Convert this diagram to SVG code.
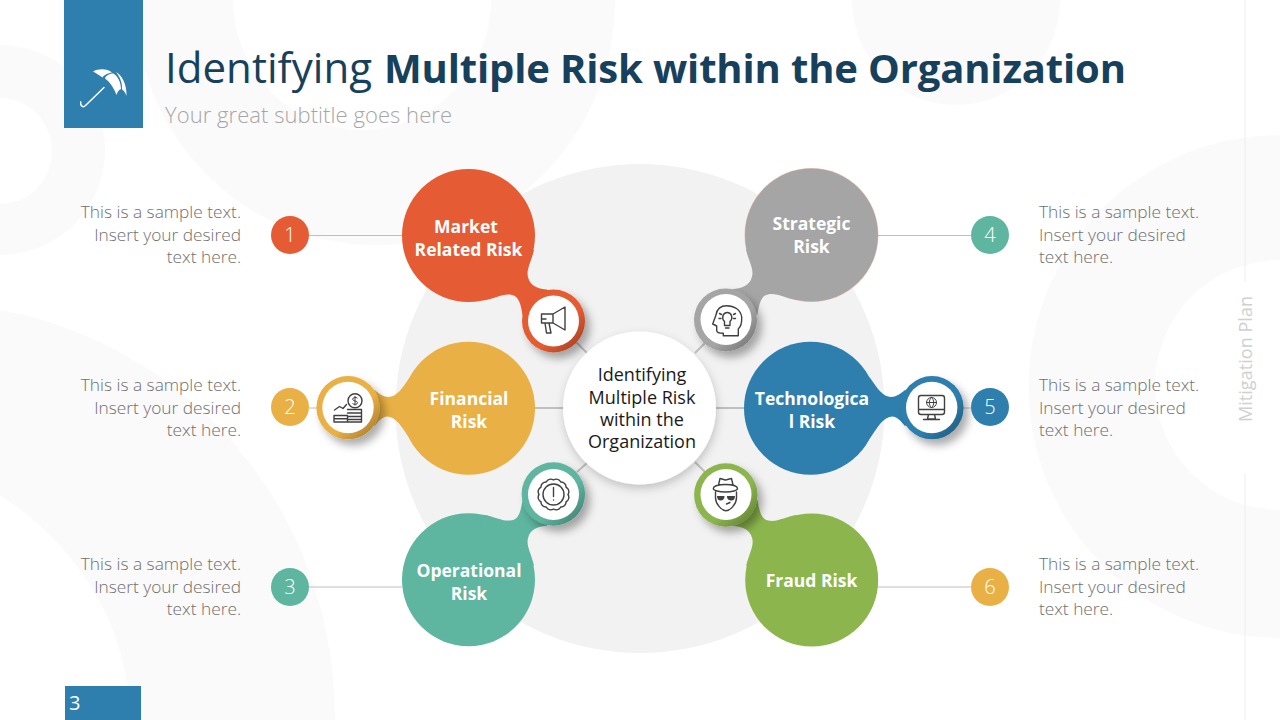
<svg xmlns="http://www.w3.org/2000/svg" xmlns:xlink="http://www.w3.org/1999/xlink" width="1280" height="720" viewBox="0 0 1280 720">
<style>
.bg{fill:#fafafa;fill-rule:evenodd}
.ln{stroke:#bfbfbf;stroke-width:1.2;fill:none}
.ln2{stroke:#bfbfbf;stroke-width:2;fill:none}
.ic{fill:none;stroke:#404040;stroke-width:1.4;stroke-linejoin:round;stroke-linecap:round}
.wh{fill:#fff}
.shade{fill:url(#shade)}
.t{font-family:"Open Sans","Liberation Sans",sans-serif}
.bl{font-family:"Open Sans","Liberation Sans",sans-serif;font-weight:700;font-size:17.5px;fill:#fff;text-anchor:middle}
.sm{font-family:"Open Sans","Liberation Sans",sans-serif;font-weight:300;font-size:17.300px;fill:#6f6f6f}
.nm{font-family:"Open Sans","Liberation Sans",sans-serif;font-weight:300;font-size:20px;fill:#fff;text-anchor:middle}
.ct{font-family:"Open Sans","Liberation Sans",sans-serif;font-size:18px;fill:#1a1a1a;text-anchor:middle}
</style>
<defs>
<linearGradient id="shade" x1="0.2" y1="0.2" x2="0.85" y2="0.85"><stop offset="0.62" stop-color="#000" stop-opacity="0"/><stop offset="1" stop-color="#000" stop-opacity="0.22"/></linearGradient>
<filter id="sh" x="-40%" y="-40%" width="200%" height="200%"><feDropShadow dx="5" dy="6" stdDeviation="4" flood-color="#000" flood-opacity="0.33"/></filter>
<filter id="shc" x="-30%" y="-30%" width="160%" height="160%"><feDropShadow dx="1" dy="4" stdDeviation="5" flood-color="#000" flood-opacity="0.2"/></filter>
<path id="nd" d="M65.500 14.500C62.500 26.500 57.500 34.500 59.500 41.500C61.500 51.500 71.500 53.500 78.500 54L85 85.500L54 79.500C52.500 69.500 50.500 60.500 43.500 59.500C34.500 57.500 26.500 63.500 14.500 65L0 0Z"/>
<path id="nh" d="M-58.500 -31C-66 -20 -72 -11 -80 -11C-85 -11 -89 -14 -94 -18L-120.500 0L-94 18C-90 13 -86 8.500 -81 8.500C-72 9 -66 20 -58.500 31Z"/>
</defs>

<g id="background">
<path class="bg" d="M135 0A240 245 0 0 0 615 0ZM233 0A129 130 0 0 0 491 0Z"/>
<path class="bg" d="M852 0A104 105 0 0 0 1060 0Z"/>
<path class="bg" d="M1280 135A251 251 0 0 0 1280 638ZM1280 260A125 125 0 0 0 1280 510Z"/>
<path class="bg" d="M0 45A105 105 0 0 1 0 255ZM0 98A52 53 0 0 1 0 204Z"/>
<path class="bg" d="M0 310C190 345 335 510 335 720L130 720C130 620 70 540 0 495Z"/>
<path d="M1245 0V282M1245 474V720" stroke="#eeeeee" stroke-width="1" fill="none"/>
<circle cx="640" cy="408.500" r="244.500" fill="#f2f2f2"/>
</g>

<g id="header">
<rect x="64" y="0" width="79" height="128" fill="#2f7fae"/>
<path class="wh" d="M93 71.500C98 68.500 107 68 112 72.500C108 73 104 75 102.500 77.500C99 75 96 73 93 71.500Z"/>
<path class="wh" d="M105 78.500C106 75 110 73.500 113.500 73.500C118 76 121 83 121 89C119 89.500 117.500 92 116.500 95C114 88 110 82 105 78.500Z"/>
<path class="wh" d="M116 72C122 75 127 85 126.500 96C125 92 123.500 90 122 89.500C122.500 83 120 77 116 72Z"/>
<path d="M104 87.500L85.500 105.500C83 108 80 106 80.700 102" fill="none" stroke="#fff" stroke-width="1.500" stroke-linecap="round"/>
<text class="t" x="165" y="83" font-size="42" fill="#17405c" textLength="207" lengthAdjust="spacing">Identifying</text>
<text class="t" x="384" y="83" font-size="40" font-weight="700" fill="#17405c" textLength="742" lengthAdjust="spacing">Multiple Risk within the Organization</text>
<text class="t" x="165" y="123" font-size="22" font-weight="300" fill="#a6a6a6" textLength="287" lengthAdjust="spacing">Your great subtitle goes here</text>
</g>

<g id="connectors">
<path class="ln" d="M309 235.500H402M309 408H317M309 587H402M878 235.500H971M963 408H971M878 587H971"/>
<path class="ln2" d="M535 408H564M716 408H745M575 341L587 353M707 341L695 353M577 472L587 463M695 462L705 472"/>
</g>

<g id="center-disc">
<circle cx="639.500" cy="408" r="76.500" class="wh" filter="url(#shc)"/>
<text class="ct" x="642" y="380.500">Identifying</text>
<text class="ct" x="642" y="403.500">Multiple Risk</text>
<text class="ct" x="642" y="425.500">within the</text>
<text class="ct" x="642" y="447.500">Organization</text>
</g>

<g id="node-market">
<g fill="#e55b33"><circle cx="468.500" cy="235.500" r="66.500"/><use xlink:href="#nd" transform="translate(468.500,235.500)"/></g>
<circle cx="553.500" cy="321" r="31.500" fill="#e55b33" filter="url(#sh)"/><circle cx="553.500" cy="321" r="31.500" class="shade"/>
<circle cx="553.500" cy="321" r="25.500" class="wh"/>
<path class="ic" d="M541.500 314H553L565 307V330L553 323H541.500ZM553 314V323M545 323L546.500 333H551L549 323M541.500 319H546"/>
<text class="bl" x="466" y="233">Market</text><text class="bl" x="468.500" y="256">Related Risk</text>
</g>

<g id="node-financial">
<g fill="#e9b045"><circle cx="468.500" cy="408.300" r="66.500"/><use xlink:href="#nh" transform="translate(468.500,408)"/></g>
<circle cx="348" cy="407.700" r="31.600" fill="#e9b045" filter="url(#sh)"/><circle cx="348" cy="407.700" r="31.600" class="shade"/>
<circle cx="348" cy="407.500" r="25.700" class="wh"/>
<path class="ic" d="M334 415.500H347.500V422H334ZM334 418.700H347.500M347.500 409.500H361.500V422H347.500M347.500 413H361.500M347.500 416.500H361.500M347.500 419.500H361.500M334.500 410L339.500 406.500L343 408.500L346.500 404.500"/>
<circle class="ic" cx="355" cy="400.700" r="7"/>
<path d="M357.500 398.200C356 396.800 352.700 397.200 352.700 399.200C352.700 401.500 357.500 400.500 357.500 402.800C357.500 404.700 354 405 352.500 403.500M355 396V405.500" fill="none" stroke="#404040" stroke-width="1"/>
<text class="bl" x="469" y="405">Financial</text><text class="bl" x="469" y="428">Risk</text>
</g>

<g id="node-operational">
<g fill="#5eb5a0"><circle cx="468.500" cy="579.700" r="66.500"/><use xlink:href="#nd" transform="translate(468.500,579.700) scale(1,-1)"/></g>
<circle cx="553.300" cy="494" r="31.700" fill="#5eb5a0" filter="url(#sh)"/><circle cx="553.300" cy="494" r="31.700" class="shade"/>
<circle cx="553.500" cy="494.500" r="25.500" class="wh"/>
<g transform="translate(553.500,494.500)"><path class="ic" d="M14.500 0A5 5 0 0 1 12.560 7.250A5 5 0 0 1 7.250 12.560A5 5 0 0 1 0 14.500A5 5 0 0 1 -7.250 12.560A5 5 0 0 1 -12.560 7.250A5 5 0 0 1 -14.500 0A5 5 0 0 1 -12.560 -7.250A5 5 0 0 1 -7.250 -12.560A5 5 0 0 1 0 -14.500A5 5 0 0 1 7.250 -12.560A5 5 0 0 1 12.560 -7.250A5 5 0 0 1 14.500 0Z"/><circle class="ic" r="10.500"/><path class="ic" d="M0 -7V2M0 5.500V5.600"/></g>
<text class="bl" x="469" y="577">Operational</text><text class="bl" x="469" y="600">Risk</text>
</g>

<g id="node-strategic">
<circle cx="811.500" cy="235" r="67" fill="#e55b33" opacity="0.3"/>
<g fill="#a5a5a5"><circle cx="811.500" cy="235" r="66.500"/><use xlink:href="#nd" transform="translate(811.500,235) scale(-1,1)"/></g>
<circle cx="725.500" cy="320" r="31.500" fill="#a5a5a5" filter="url(#sh)"/><circle cx="725.500" cy="320" r="31.500" class="shade"/>
<circle cx="726" cy="319.500" r="25.500" class="wh"/>
<path class="ic" d="M738.300 335.700V329C741.500 326 741.900 321 741.700 317C740.500 309.500 734 305.700 726.700 305.700C720 305.700 716.700 310 716 315L712.700 324L716.700 326V330.500C716.700 332.500 719 333.300 723.300 333.300V335.700ZM724.500 321.500C721 318 723 312.500 727.300 312.500C731.500 312.500 733.500 318 730 321.500V325.500H724.500ZM725.500 328H729M719.500 313.500L721.500 314.500M735.500 313.500L733.500 314.500M719 318.500H721M735.500 318.500H733.500"/>
<text class="bl" x="811.500" y="230">Strategic</text><text class="bl" x="811.500" y="253">Risk</text>
</g>

<g id="node-technological">
<g fill="#2f7fae"><circle cx="810.500" cy="408.300" r="66.500"/><use xlink:href="#nh" transform="translate(811,408) scale(-1,1)"/></g>
<circle cx="932" cy="407.700" r="31.600" fill="#2f7fae" filter="url(#sh)"/><circle cx="932" cy="407.700" r="31.600" class="shade"/>
<circle cx="931.700" cy="407.500" r="25.700" class="wh"/>
<path class="ic" d="M921 395.500H942C943.500 395.500 944.500 396.500 944.500 398V412C944.500 413.500 943.500 414.500 942 414.500H921C919.500 414.500 918.500 413.500 918.500 412V398C918.500 396.500 919.500 395.500 921 395.500ZM918.500 409.500H944.500M928.500 414.500L927.500 419H935.500L934.500 414.500M923.500 419.500H939.500"/>
<path class="ic" style="stroke-width:1" d="M926.500 402.500A5 5 0 1 0 936.500 402.500A5 5 0 1 0 926.500 402.500ZM926.500 402.500H936.500M931.500 397.500C928.500 400 928.500 405 931.500 407.500C934.500 405 934.500 400 931.500 397.500Z"/>
<text class="bl" x="812" y="405">Technologica</text><text class="bl" x="812" y="428">l Risk</text>
</g>

<g id="node-fraud">
<g fill="#8cb64d"><circle cx="811.700" cy="580" r="66.500"/><use xlink:href="#nd" transform="translate(811.700,580) scale(-1,-1)"/></g>
<circle cx="725.800" cy="495" r="31.700" fill="#8cb64d" filter="url(#sh)"/><circle cx="725.800" cy="495" r="31.700" class="shade"/>
<circle cx="726" cy="494.500" r="25.500" class="wh"/>
<path class="ic" d="M718.500 485L720 478.500C722 478.500 723.500 480 725.500 480C727.500 480 729.500 478.500 731.500 478.500L733 485M713.300 488.500C713.300 486 719 484.500 725.500 484.500C732 484.500 737.500 486 737.500 488.500C737.500 490.500 732 492 725.500 492C719 492 713.300 490.500 713.300 488.500ZM715.500 492V498C715.500 504 722 510.700 726 510.700C730 510.700 736.500 504 736.500 498V492M726.500 504L730 502.500"/>
<path fill="#404040" d="M717 496H724.500C724.500 499.500 722.500 500.500 720.500 500.500C718.500 500.500 717 499 717 496ZM727 496H735C735 499 733.500 500.500 731.500 500.500C729 500.500 727 499.500 727 496Z"/>
<text class="bl" x="811.500" y="587">Fraud Risk</text>
</g>

<g id="badge-1"><circle cx="290" cy="235" r="19" fill="#e55b33"/><text class="nm" x="290" y="242">1</text></g>
<g id="badge-2"><circle cx="290" cy="407" r="19" fill="#e9b045"/><text class="nm" x="290" y="414">2</text></g>
<g id="badge-3"><circle cx="290" cy="587" r="19" fill="#5eb5a0"/><text class="nm" x="290" y="594">3</text></g>
<g id="badge-4"><circle cx="990" cy="235" r="19" fill="#5eb5a0"/><text class="nm" x="990" y="242">4</text></g>
<g id="badge-5"><circle cx="990" cy="407" r="19" fill="#2f7fae"/><text class="nm" x="990" y="414">5</text></g>
<g id="badge-6"><circle cx="990" cy="587" r="19" fill="#e9b045"/><text class="nm" x="990" y="594">6</text></g>

<g id="notes-left" class="sm" text-anchor="end">
<text x="241" y="218">This is a sample text.</text><text x="241" y="241">Insert your desired</text><text x="241" y="263">text here.</text>
<text x="241" y="391">This is a sample text.</text><text x="241" y="414">Insert your desired</text><text x="241" y="436">text here.</text>
<text x="241" y="570">This is a sample text.</text><text x="241" y="593">Insert your desired</text><text x="241" y="615">text here.</text>
</g>
<g id="notes-right" class="sm">
<text x="1039" y="218">This is a sample text.</text><text x="1039" y="241">Insert your desired</text><text x="1039" y="263">text here.</text>
<text x="1039" y="391">This is a sample text.</text><text x="1039" y="414">Insert your desired</text><text x="1039" y="436">text here.</text>
<text x="1039" y="570">This is a sample text.</text><text x="1039" y="593">Insert your desired</text><text x="1039" y="615">text here.</text>
</g>

<g id="footer">
<rect x="65" y="686" width="76" height="34" fill="#2f7fae"/>
<text class="t" x="69" y="710" font-size="20" fill="#fff">3</text>
<text class="t" transform="translate(1252,422) rotate(-90)" font-size="18" fill="#d0d0d0" textLength="126" lengthAdjust="spacing">Mitigation Plan</text>
</g>
</svg>
